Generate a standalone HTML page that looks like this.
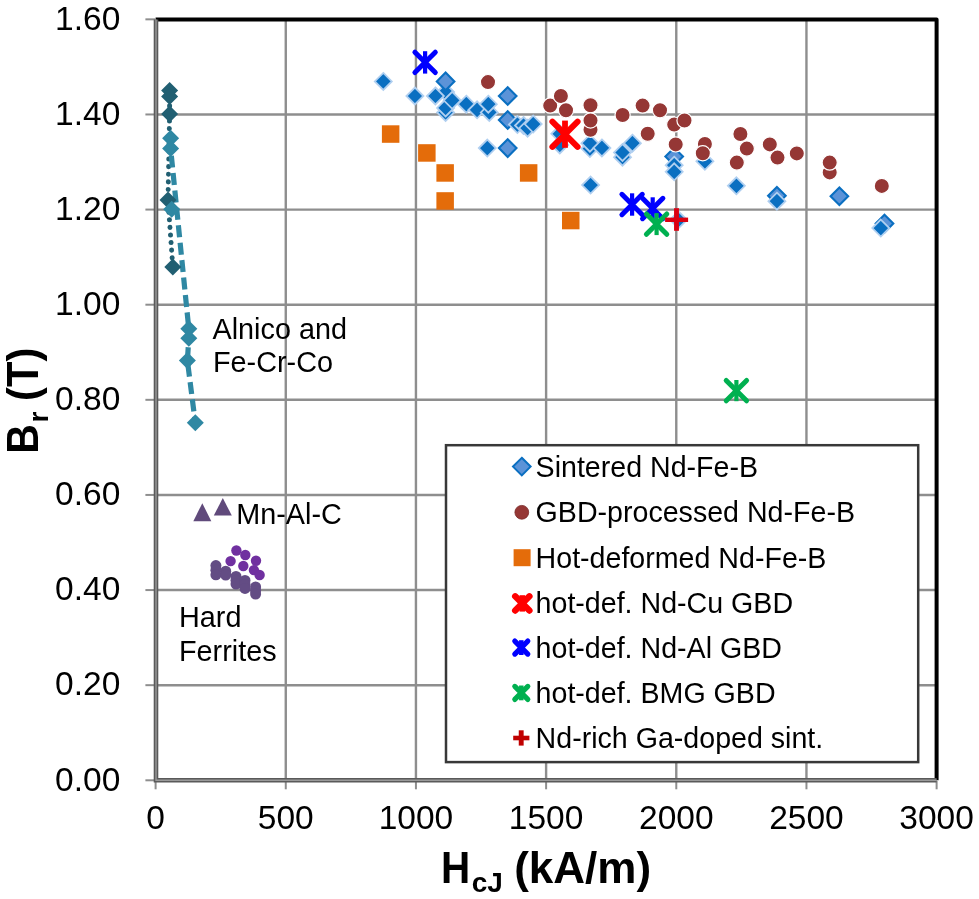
<!DOCTYPE html><html><head><meta charset="utf-8"><style>html,body{margin:0;padding:0;background:#fff;width:979px;height:899px;overflow:hidden;}svg{display:block;filter:blur(0.4px)}text{font-family:"Liberation Sans",sans-serif;}</style></head><body>
<svg width="979" height="899" viewBox="0 0 979 899">
<rect width="979" height="899" fill="#fff"/>
<line x1="155.6" y1="685.18" x2="936.6" y2="685.18" stroke="#8e8e8e" stroke-width="2.4"/>
<line x1="155.6" y1="590.06" x2="936.6" y2="590.06" stroke="#8e8e8e" stroke-width="2.4"/>
<line x1="155.6" y1="494.94" x2="936.6" y2="494.94" stroke="#8e8e8e" stroke-width="2.4"/>
<line x1="155.6" y1="399.82" x2="936.6" y2="399.82" stroke="#8e8e8e" stroke-width="2.4"/>
<line x1="155.6" y1="304.70" x2="936.6" y2="304.70" stroke="#8e8e8e" stroke-width="2.4"/>
<line x1="155.6" y1="209.58" x2="936.6" y2="209.58" stroke="#8e8e8e" stroke-width="2.4"/>
<line x1="155.6" y1="114.46" x2="936.6" y2="114.46" stroke="#8e8e8e" stroke-width="2.4"/>
<line x1="285.77" y1="19.4" x2="285.77" y2="780.3" stroke="#8e8e8e" stroke-width="2.4"/>
<line x1="415.94" y1="19.4" x2="415.94" y2="780.3" stroke="#8e8e8e" stroke-width="2.4"/>
<line x1="546.11" y1="19.4" x2="546.11" y2="780.3" stroke="#8e8e8e" stroke-width="2.4"/>
<line x1="676.28" y1="19.4" x2="676.28" y2="780.3" stroke="#8e8e8e" stroke-width="2.4"/>
<line x1="806.45" y1="19.4" x2="806.45" y2="780.3" stroke="#8e8e8e" stroke-width="2.4"/>
<line x1="145.4" y1="780.30" x2="155" y2="780.30" stroke="#8e8e8e" stroke-width="2"/>
<line x1="145.4" y1="685.18" x2="155" y2="685.18" stroke="#8e8e8e" stroke-width="2"/>
<line x1="145.4" y1="590.06" x2="155" y2="590.06" stroke="#8e8e8e" stroke-width="2"/>
<line x1="145.4" y1="494.94" x2="155" y2="494.94" stroke="#8e8e8e" stroke-width="2"/>
<line x1="145.4" y1="399.82" x2="155" y2="399.82" stroke="#8e8e8e" stroke-width="2"/>
<line x1="145.4" y1="304.70" x2="155" y2="304.70" stroke="#8e8e8e" stroke-width="2"/>
<line x1="145.4" y1="209.58" x2="155" y2="209.58" stroke="#8e8e8e" stroke-width="2"/>
<line x1="145.4" y1="114.46" x2="155" y2="114.46" stroke="#8e8e8e" stroke-width="2"/>
<line x1="145.4" y1="19.34" x2="155" y2="19.34" stroke="#8e8e8e" stroke-width="2"/>
<line x1="155.60" y1="781" x2="155.60" y2="789.3" stroke="#8e8e8e" stroke-width="2"/>
<line x1="285.77" y1="781" x2="285.77" y2="789.3" stroke="#8e8e8e" stroke-width="2"/>
<line x1="415.94" y1="781" x2="415.94" y2="789.3" stroke="#8e8e8e" stroke-width="2"/>
<line x1="546.11" y1="781" x2="546.11" y2="789.3" stroke="#8e8e8e" stroke-width="2"/>
<line x1="676.28" y1="781" x2="676.28" y2="789.3" stroke="#8e8e8e" stroke-width="2"/>
<line x1="806.45" y1="781" x2="806.45" y2="789.3" stroke="#8e8e8e" stroke-width="2"/>
<line x1="936.62" y1="781" x2="936.62" y2="789.3" stroke="#8e8e8e" stroke-width="2"/>
<path d="M155.6 19.4 H936.6 V780.3" fill="none" stroke="#000" stroke-width="4" stroke-linejoin="round"/>
<path d="M156 19.4 V780.3 H936.6" fill="none" stroke="#5a5a5a" stroke-width="4.6"/>
<path d="M156 19.4 V780.3 H936.6" fill="none" stroke="#9a9a9a" stroke-width="1.4"/>
<text x="120.3" y="790.60" font-size="33.5" text-anchor="end" fill="#000">0.00</text>
<text x="120.3" y="695.48" font-size="33.5" text-anchor="end" fill="#000">0.20</text>
<text x="120.3" y="600.36" font-size="33.5" text-anchor="end" fill="#000">0.40</text>
<text x="120.3" y="505.24" font-size="33.5" text-anchor="end" fill="#000">0.60</text>
<text x="120.3" y="410.12" font-size="33.5" text-anchor="end" fill="#000">0.80</text>
<text x="120.3" y="315.00" font-size="33.5" text-anchor="end" fill="#000">1.00</text>
<text x="120.3" y="219.88" font-size="33.5" text-anchor="end" fill="#000">1.20</text>
<text x="120.3" y="124.76" font-size="33.5" text-anchor="end" fill="#000">1.40</text>
<text x="120.3" y="29.64" font-size="33.5" text-anchor="end" fill="#000">1.60</text>
<text x="155.60" y="829" font-size="33.5" text-anchor="middle" fill="#000">0</text>
<text x="285.77" y="829" font-size="33.5" text-anchor="middle" fill="#000">500</text>
<text x="415.94" y="829" font-size="33.5" text-anchor="middle" fill="#000">1000</text>
<text x="546.11" y="829" font-size="33.5" text-anchor="middle" fill="#000">1500</text>
<text x="676.28" y="829" font-size="33.5" text-anchor="middle" fill="#000">2000</text>
<text x="806.45" y="829" font-size="33.5" text-anchor="middle" fill="#000">2500</text>
<text x="936.62" y="829" font-size="33.5" text-anchor="middle" fill="#000">3000</text>
<text transform="translate(441.1,883.4) scale(0.92,1)" font-size="44" font-weight="bold" fill="#000">H</text>
<text x="471.7" y="891.8" font-size="28" font-weight="bold" fill="#000">cJ</text>
<text x="514.2" y="883.4" font-size="44" font-weight="bold" fill="#000">(kA/m)</text>
<text transform="translate(38.2,453.7) rotate(-90) scale(0.93,1)" font-size="44" font-weight="bold" fill="#000">B</text>
<text transform="translate(47.6,422.6) rotate(-90)" font-size="28" font-weight="bold" fill="#000">r</text>
<text transform="translate(38.2,400.9) rotate(-90) scale(0.948,1)" font-size="44" font-weight="bold" fill="#000">(T)</text>
<polyline points="169.6,90.6 169.6,96.4 169.6,114.1 168.0,200.0 172.8,267.0" fill="none" stroke="#215f72" stroke-width="5" stroke-dasharray="0.1 7.5" stroke-linecap="round"/>
<polyline points="170.6,138.2 170.6,148.4 188.8,328.8 188.8,338.2 187.4,360.6 195.3,422.7" fill="none" stroke="#2f88a3" stroke-width="5.2" stroke-dasharray="12 5.5"/>
<path d="M169.6 82.1 L178.1 90.6 L169.6 99.1 L161.1 90.6Z" fill="#215f72" stroke="none" stroke-width="0" stroke-linejoin="miter"/>
<path d="M169.6 87.9 L178.1 96.4 L169.6 104.9 L161.1 96.4Z" fill="#215f72" stroke="none" stroke-width="0" stroke-linejoin="miter"/>
<path d="M169.6 105.6 L178.1 114.1 L169.6 122.6 L161.1 114.1Z" fill="#215f72" stroke="none" stroke-width="0" stroke-linejoin="miter"/>
<path d="M168.0 191.5 L176.5 200.0 L168.0 208.5 L159.5 200.0Z" fill="#215f72" stroke="none" stroke-width="0" stroke-linejoin="miter"/>
<path d="M172.8 258.5 L181.3 267.0 L172.8 275.5 L164.3 267.0Z" fill="#215f72" stroke="none" stroke-width="0" stroke-linejoin="miter"/>
<path d="M170.6 129.7 L179.1 138.2 L170.6 146.7 L162.1 138.2Z" fill="#2f88a3" stroke="none" stroke-width="0" stroke-linejoin="miter"/>
<path d="M170.6 139.9 L179.1 148.4 L170.6 156.9 L162.1 148.4Z" fill="#2f88a3" stroke="none" stroke-width="0" stroke-linejoin="miter"/>
<path d="M171.7 200.7 L180.2 209.2 L171.7 217.7 L163.2 209.2Z" fill="#2f88a3" stroke="none" stroke-width="0" stroke-linejoin="miter"/>
<path d="M188.8 320.3 L197.3 328.8 L188.8 337.3 L180.3 328.8Z" fill="#2f88a3" stroke="none" stroke-width="0" stroke-linejoin="miter"/>
<path d="M188.8 329.7 L197.3 338.2 L188.8 346.7 L180.3 338.2Z" fill="#2f88a3" stroke="none" stroke-width="0" stroke-linejoin="miter"/>
<path d="M187.4 352.1 L195.9 360.6 L187.4 369.1 L178.9 360.6Z" fill="#2f88a3" stroke="none" stroke-width="0" stroke-linejoin="miter"/>
<path d="M195.3 414.2 L203.8 422.7 L195.3 431.2 L186.8 422.7Z" fill="#2f88a3" stroke="none" stroke-width="0" stroke-linejoin="miter"/>
<path d="M202.3 503.2 L211.3 521.2 L193.3 521.2Z" fill="#604a7b"/>
<path d="M222.8 498 L231.8 515.6 L213.8 515.6Z" fill="#604a7b"/>
<circle cx="215.9" cy="565.6" r="5.5" fill="#634c84" stroke="none" stroke-width="0"/>
<circle cx="215.9" cy="570.2" r="5.5" fill="#634c84" stroke="none" stroke-width="0"/>
<circle cx="215.9" cy="574.8" r="5.5" fill="#634c84" stroke="none" stroke-width="0"/>
<circle cx="225.7" cy="571.2" r="5.5" fill="#634c84" stroke="none" stroke-width="0"/>
<circle cx="225.7" cy="575.0" r="5.5" fill="#634c84" stroke="none" stroke-width="0"/>
<circle cx="236.0" cy="576.4" r="5.5" fill="#634c84" stroke="none" stroke-width="0"/>
<circle cx="236.0" cy="580.2" r="5.5" fill="#634c84" stroke="none" stroke-width="0"/>
<circle cx="236.0" cy="584.1" r="5.5" fill="#634c84" stroke="none" stroke-width="0"/>
<circle cx="245.0" cy="580.4" r="5.5" fill="#634c84" stroke="none" stroke-width="0"/>
<circle cx="245.0" cy="584.4" r="5.5" fill="#634c84" stroke="none" stroke-width="0"/>
<circle cx="245.0" cy="588.4" r="5.5" fill="#634c84" stroke="none" stroke-width="0"/>
<circle cx="255.6" cy="587.0" r="5.5" fill="#634c84" stroke="none" stroke-width="0"/>
<circle cx="255.6" cy="590.5" r="5.5" fill="#634c84" stroke="none" stroke-width="0"/>
<circle cx="255.6" cy="594.1" r="5.5" fill="#634c84" stroke="none" stroke-width="0"/>
<circle cx="236.4" cy="550.5" r="5.2" fill="#7030a0" stroke="none" stroke-width="0"/>
<circle cx="245.3" cy="555.0" r="5.2" fill="#7030a0" stroke="none" stroke-width="0"/>
<circle cx="230.6" cy="561.1" r="5.2" fill="#7030a0" stroke="none" stroke-width="0"/>
<circle cx="256.0" cy="560.7" r="5.2" fill="#7030a0" stroke="none" stroke-width="0"/>
<circle cx="243.3" cy="566.0" r="5.2" fill="#7030a0" stroke="none" stroke-width="0"/>
<circle cx="253.9" cy="570.1" r="5.2" fill="#7030a0" stroke="none" stroke-width="0"/>
<circle cx="259.6" cy="575.0" r="5.2" fill="#7030a0" stroke="none" stroke-width="0"/>
<rect x="381.9" y="125.3" width="17.5" height="17.5" fill="#e46c0a"/>
<rect x="418.1" y="144.2" width="17.5" height="17.5" fill="#e46c0a"/>
<rect x="436.4" y="164.2" width="17.5" height="17.5" fill="#e46c0a"/>
<rect x="436.4" y="192.2" width="17.5" height="17.5" fill="#e46c0a"/>
<rect x="519.9" y="164.2" width="17.5" height="17.5" fill="#e46c0a"/>
<rect x="562.0" y="211.8" width="17.5" height="17.5" fill="#e46c0a"/>
<path d="M383.3 72.9 L391.8 81.4 L383.3 89.9 L374.8 81.4Z" fill="#0a6fc1" stroke="#b0cff0" stroke-width="1.8" stroke-linejoin="miter"/>
<path d="M414.9 87.5 L423.4 96.0 L414.9 104.5 L406.4 96.0Z" fill="#0a6fc1" stroke="#b0cff0" stroke-width="1.8" stroke-linejoin="miter"/>
<path d="M445.6 83.6 L454.1 92.1 L445.6 100.6 L437.1 92.1Z" fill="#0a6fc1" stroke="#b0cff0" stroke-width="1.8" stroke-linejoin="miter"/>
<path d="M445.6 72.6 L454.4 81.4 L445.6 90.2 L436.8 81.4Z" fill="#5b93d8" stroke="#0a6fc1" stroke-width="2.1" stroke-linejoin="miter"/>
<path d="M435.4 87.5 L443.9 96.0 L435.4 104.5 L426.9 96.0Z" fill="#0a6fc1" stroke="#b0cff0" stroke-width="1.8" stroke-linejoin="miter"/>
<path d="M445.6 104.0 L454.1 112.5 L445.6 121.0 L437.1 112.5Z" fill="#0a6fc1" stroke="#b0cff0" stroke-width="1.8" stroke-linejoin="miter"/>
<path d="M445.6 99.4 L454.1 107.9 L445.6 116.4 L437.1 107.9Z" fill="#0a6fc1" stroke="#b0cff0" stroke-width="1.8" stroke-linejoin="miter"/>
<path d="M452.2 91.8 L460.7 100.3 L452.2 108.8 L443.7 100.3Z" fill="#0a6fc1" stroke="#b0cff0" stroke-width="1.8" stroke-linejoin="miter"/>
<path d="M466.3 95.7 L474.8 104.2 L466.3 112.7 L457.8 104.2Z" fill="#0a6fc1" stroke="#b0cff0" stroke-width="1.8" stroke-linejoin="miter"/>
<path d="M477.1 101.3 L485.6 109.8 L477.1 118.3 L468.6 109.8Z" fill="#0a6fc1" stroke="#b0cff0" stroke-width="1.8" stroke-linejoin="miter"/>
<path d="M489.3 103.9 L497.8 112.4 L489.3 120.9 L480.8 112.4Z" fill="#0a6fc1" stroke="#b0cff0" stroke-width="1.8" stroke-linejoin="miter"/>
<path d="M488.3 95.7 L496.8 104.2 L488.3 112.7 L479.8 104.2Z" fill="#0a6fc1" stroke="#b0cff0" stroke-width="1.8" stroke-linejoin="miter"/>
<path d="M507.7 87.2 L516.5 96.0 L507.7 104.8 L498.9 96.0Z" fill="#5b93d8" stroke="#0a6fc1" stroke-width="2.1" stroke-linejoin="miter"/>
<path d="M507.7 111.2 L516.5 120.0 L507.7 128.8 L498.9 120.0Z" fill="#5b93d8" stroke="#0a6fc1" stroke-width="2.1" stroke-linejoin="miter"/>
<path d="M517.4 116.1 L525.9 124.6 L517.4 133.1 L508.9 124.6Z" fill="#0a6fc1" stroke="#b0cff0" stroke-width="1.8" stroke-linejoin="miter"/>
<path d="M523.5 117.0 L532.0 125.5 L523.5 134.0 L515.0 125.5Z" fill="#0a6fc1" stroke="#b0cff0" stroke-width="1.8" stroke-linejoin="miter"/>
<path d="M527.6 119.7 L536.1 128.2 L527.6 136.7 L519.1 128.2Z" fill="#0a6fc1" stroke="#b0cff0" stroke-width="1.8" stroke-linejoin="miter"/>
<path d="M533.2 115.6 L541.7 124.1 L533.2 132.6 L524.7 124.1Z" fill="#0a6fc1" stroke="#b0cff0" stroke-width="1.8" stroke-linejoin="miter"/>
<path d="M487.3 139.6 L495.8 148.1 L487.3 156.6 L478.8 148.1Z" fill="#0a6fc1" stroke="#b0cff0" stroke-width="1.8" stroke-linejoin="miter"/>
<path d="M507.7 139.3 L516.5 148.1 L507.7 156.9 L498.9 148.1Z" fill="#5b93d8" stroke="#0a6fc1" stroke-width="2.1" stroke-linejoin="miter"/>
<path d="M559.8 125.3 L568.3 133.8 L559.8 142.3 L551.3 133.8Z" fill="#0a6fc1" stroke="#b0cff0" stroke-width="1.8" stroke-linejoin="miter"/>
<path d="M559.8 136.5 L568.3 145.0 L559.8 153.5 L551.3 145.0Z" fill="#0a6fc1" stroke="#b0cff0" stroke-width="1.8" stroke-linejoin="miter"/>
<path d="M589.9 140.1 L598.4 148.6 L589.9 157.1 L581.4 148.6Z" fill="#0a6fc1" stroke="#b0cff0" stroke-width="1.8" stroke-linejoin="miter"/>
<path d="M589.9 134.7 L598.4 143.2 L589.9 151.7 L581.4 143.2Z" fill="#0a6fc1" stroke="#b0cff0" stroke-width="1.8" stroke-linejoin="miter"/>
<path d="M601.9 139.4 L610.4 147.9 L601.9 156.4 L593.4 147.9Z" fill="#0a6fc1" stroke="#b0cff0" stroke-width="1.8" stroke-linejoin="miter"/>
<path d="M622.5 148.7 L631.0 157.2 L622.5 165.7 L614.0 157.2Z" fill="#0a6fc1" stroke="#b0cff0" stroke-width="1.8" stroke-linejoin="miter"/>
<path d="M622.5 144.0 L631.0 152.5 L622.5 161.0 L614.0 152.5Z" fill="#0a6fc1" stroke="#b0cff0" stroke-width="1.8" stroke-linejoin="miter"/>
<path d="M632.4 134.7 L640.9 143.2 L632.4 151.7 L623.9 143.2Z" fill="#0a6fc1" stroke="#b0cff0" stroke-width="1.8" stroke-linejoin="miter"/>
<path d="M590.6 176.6 L599.1 185.1 L590.6 193.6 L582.1 185.1Z" fill="#0a6fc1" stroke="#b0cff0" stroke-width="1.8" stroke-linejoin="miter"/>
<path d="M674.2 147.7 L683.0 156.5 L674.2 165.3 L665.4 156.5Z" fill="#5b93d8" stroke="#0a6fc1" stroke-width="2.1" stroke-linejoin="miter"/>
<path d="M674.2 156.7 L682.7 165.2 L674.2 173.7 L665.7 165.2Z" fill="#0a6fc1" stroke="#b0cff0" stroke-width="1.8" stroke-linejoin="miter"/>
<path d="M674.2 163.3 L682.7 171.8 L674.2 180.3 L665.7 171.8Z" fill="#0a6fc1" stroke="#b0cff0" stroke-width="1.8" stroke-linejoin="miter"/>
<path d="M704.9 152.8 L713.4 161.3 L704.9 169.8 L696.4 161.3Z" fill="#0a6fc1" stroke="#b0cff0" stroke-width="1.8" stroke-linejoin="miter"/>
<path d="M736.4 177.3 L744.9 185.8 L736.4 194.3 L727.9 185.8Z" fill="#0a6fc1" stroke="#b0cff0" stroke-width="1.8" stroke-linejoin="miter"/>
<path d="M776.9 187.0 L785.7 195.8 L776.9 204.6 L768.1 195.8Z" fill="#5b93d8" stroke="#0a6fc1" stroke-width="2.1" stroke-linejoin="miter"/>
<path d="M776.9 192.7 L785.4 201.2 L776.9 209.7 L768.4 201.2Z" fill="#0a6fc1" stroke="#b0cff0" stroke-width="1.8" stroke-linejoin="miter"/>
<path d="M839.4 187.4 L848.2 196.2 L839.4 205.0 L830.6 196.2Z" fill="#5b93d8" stroke="#0a6fc1" stroke-width="2.1" stroke-linejoin="miter"/>
<path d="M884.5 214.8 L893.3 223.6 L884.5 232.4 L875.7 223.6Z" fill="#5b93d8" stroke="#0a6fc1" stroke-width="2.1" stroke-linejoin="miter"/>
<path d="M880.8 219.6 L889.3 228.1 L880.8 236.6 L872.3 228.1Z" fill="#0a6fc1" stroke="#b0cff0" stroke-width="1.8" stroke-linejoin="miter"/>
<path d="M678.5 211.3 L687.0 219.8 L678.5 228.3 L670.0 219.8Z" fill="#0a6fc1" stroke="#b0cff0" stroke-width="1.8" stroke-linejoin="miter"/>
<circle cx="488.0" cy="82.1" r="7.6" fill="#953735" stroke="#fff" stroke-width="1.2"/>
<circle cx="550.2" cy="105.6" r="7.6" fill="#953735" stroke="#fff" stroke-width="1.2"/>
<circle cx="560.9" cy="96.0" r="7.6" fill="#953735" stroke="#fff" stroke-width="1.2"/>
<circle cx="566.0" cy="110.3" r="7.6" fill="#953735" stroke="#fff" stroke-width="1.2"/>
<circle cx="590.5" cy="129.7" r="7.6" fill="#953735" stroke="#fff" stroke-width="1.2"/>
<circle cx="590.5" cy="105.2" r="7.6" fill="#953735" stroke="#fff" stroke-width="1.2"/>
<circle cx="590.5" cy="120.5" r="7.6" fill="#953735" stroke="#fff" stroke-width="1.2"/>
<circle cx="622.6" cy="115.0" r="7.6" fill="#953735" stroke="#fff" stroke-width="1.2"/>
<circle cx="642.6" cy="105.6" r="7.6" fill="#953735" stroke="#fff" stroke-width="1.2"/>
<circle cx="660.0" cy="110.3" r="7.6" fill="#953735" stroke="#fff" stroke-width="1.2"/>
<circle cx="647.7" cy="133.8" r="7.6" fill="#953735" stroke="#fff" stroke-width="1.2"/>
<circle cx="674.2" cy="124.6" r="7.6" fill="#953735" stroke="#fff" stroke-width="1.2"/>
<circle cx="684.5" cy="120.5" r="7.6" fill="#953735" stroke="#fff" stroke-width="1.2"/>
<circle cx="675.7" cy="144.4" r="7.6" fill="#953735" stroke="#fff" stroke-width="1.2"/>
<circle cx="704.9" cy="144.0" r="7.6" fill="#953735" stroke="#fff" stroke-width="1.2"/>
<circle cx="702.8" cy="153.2" r="7.6" fill="#953735" stroke="#fff" stroke-width="1.2"/>
<circle cx="740.4" cy="134.0" r="7.6" fill="#953735" stroke="#fff" stroke-width="1.2"/>
<circle cx="746.8" cy="148.6" r="7.6" fill="#953735" stroke="#fff" stroke-width="1.2"/>
<circle cx="736.8" cy="162.6" r="7.6" fill="#953735" stroke="#fff" stroke-width="1.2"/>
<circle cx="769.8" cy="144.4" r="7.6" fill="#953735" stroke="#fff" stroke-width="1.2"/>
<circle cx="777.5" cy="157.6" r="7.6" fill="#953735" stroke="#fff" stroke-width="1.2"/>
<circle cx="796.8" cy="153.4" r="7.6" fill="#953735" stroke="#fff" stroke-width="1.2"/>
<circle cx="829.7" cy="172.4" r="7.6" fill="#953735" stroke="#fff" stroke-width="1.2"/>
<circle cx="829.7" cy="162.6" r="7.6" fill="#953735" stroke="#fff" stroke-width="1.2"/>
<circle cx="881.8" cy="185.9" r="7.6" fill="#953735" stroke="#fff" stroke-width="1.2"/>
<path d="M552.4 121.6L577.6 146.8M552.4 146.8L577.6 121.6" stroke="#ff0000" stroke-width="6" stroke-linecap="round" fill="none"/><path d="M565.0 120.6V147.8" stroke="#ff0000" stroke-width="5.8" fill="none"/>
<path d="M414.9 52.2L435.3 72.6M414.9 72.6L435.3 52.2" stroke="#0000ff" stroke-width="5" stroke-linecap="round" fill="none"/><path d="M425.1 51.2V73.6" stroke="#0000ff" stroke-width="4.2" fill="none"/>
<path d="M621.9 194.3L642.3 214.7M621.9 214.7L642.3 194.3" stroke="#0000ff" stroke-width="5" stroke-linecap="round" fill="none"/><path d="M632.1 193.3V215.7" stroke="#0000ff" stroke-width="4.2" fill="none"/>
<path d="M642.5 198.3L662.9 218.7M642.5 218.7L662.9 198.3" stroke="#0000ff" stroke-width="5" stroke-linecap="round" fill="none"/><path d="M652.7 197.3V219.7" stroke="#0000ff" stroke-width="4.2" fill="none"/>
<path d="M646.4 213.9L666.8 234.3M646.4 234.3L666.8 213.9" stroke="#00b050" stroke-width="5" stroke-linecap="round" fill="none"/><path d="M656.6 213.1V235.1" stroke="#00b050" stroke-width="4.2" fill="none"/>
<path d="M726.2 380.4L746.6 400.8M726.2 400.8L746.6 380.4" stroke="#00b050" stroke-width="5" stroke-linecap="round" fill="none"/><path d="M736.4 380.0V401.2" stroke="#00b050" stroke-width="4.2" fill="none"/>
<path d="M665.1 219.8H688.1" stroke="#dc0012" stroke-width="4.4" fill="none"/><path d="M676.5 208.2V230.8" stroke="#dc0012" stroke-width="4.9" fill="none"/>
<text x="212.5" y="338.6" font-size="28.8" fill="#000">Alnico and</text>
<text x="213" y="371.8" font-size="28.8" fill="#000">Fe-Cr-Co</text>
<text x="236.2" y="524" font-size="28.8" fill="#000">Mn-Al-C</text>
<text x="179" y="626.8" font-size="28.8" fill="#000">Hard</text>
<text x="179" y="661.1" font-size="28.8" fill="#000">Ferrites</text>
<rect x="446" y="445.2" width="472.2" height="316.9" fill="#fff" stroke="#383838" stroke-width="2.5"/>
<text x="535.6" y="476.6" font-size="28.6" fill="#000">Sintered Nd-Fe-B</text>
<text x="535.6" y="522.3" font-size="28.6" fill="#000">GBD-processed Nd-Fe-B</text>
<text x="535.6" y="567.7" font-size="28.6" fill="#000">Hot-deformed Nd-Fe-B</text>
<text x="535.6" y="613.4" font-size="28.6" fill="#000">hot-def. Nd-Cu GBD</text>
<text x="535.6" y="657.6" font-size="28.6" fill="#000">hot-def. Nd-Al GBD</text>
<text x="535.6" y="702.9" font-size="28.6" fill="#000">hot-def. BMG GBD</text>
<text x="535.6" y="748.2" font-size="28.6" fill="#000">Nd-rich Ga-doped sint.</text>
<path d="M521.8 457.8 L530.6 466.6 L521.8 475.4 L513.0 466.6Z" fill="#5b93d8" stroke="#0a6fc1" stroke-width="2" stroke-linejoin="miter"/>
<circle cx="521.8" cy="512.3" r="6.9" fill="#953735" stroke="#7a2a28" stroke-width="0.8"/>
<rect x="513.6" y="549.2" width="17" height="17" fill="#e46c0a"/>
<path d="M515.2 596.3L529.4 610.5M515.2 610.5L529.4 596.3" stroke="#ff0000" stroke-width="6.4" stroke-linecap="round" fill="none"/><path d="M522.3 595.2V611.6" stroke="#ff0000" stroke-width="5.5" fill="none"/>
<path d="M514.8 641.1L527.8 654.1M514.8 654.1L527.8 641.1" stroke="#0000ff" stroke-width="5.2" stroke-linecap="round" fill="none"/><path d="M521.3 640.2V655.0" stroke="#0000ff" stroke-width="4.5" fill="none"/>
<path d="M514.8 686.4L527.8 699.4M514.8 699.4L527.8 686.4" stroke="#00b050" stroke-width="5.2" stroke-linecap="round" fill="none"/><path d="M521.3 685.5V700.3" stroke="#00b050" stroke-width="4.5" fill="none"/>
<path d="M513.2 738H529.4" stroke="#c00000" stroke-width="4.6" fill="none"/><path d="M521.2 730.3V745.6" stroke="#c00000" stroke-width="4.9" fill="none"/>
</svg></body></html>
